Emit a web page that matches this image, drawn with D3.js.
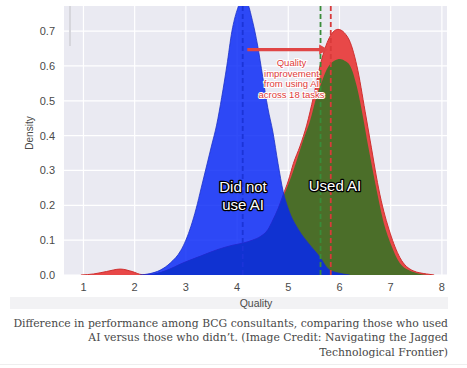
<!DOCTYPE html>
<html><head><meta charset="utf-8">
<script src="https://cdn.jsdelivr.net/npm/d3@7"></script>
<style>html,body{margin:0;padding:0;background:#fff;}svg{display:block;}</style>
</head><body>
<svg id="chart" width="467" height="368"></svg>
<script>
// ---- data ----
const xTicks = [1, 2, 3, 4, 5, 6, 7, 8];
const yTicks = [0.0, 0.1, 0.2, 0.3, 0.4, 0.5, 0.6, 0.7];

// Did not use AI (blue)
const noAiX = [2.1, 2.3, 2.5, 2.7, 2.9, 3.0, 3.1, 3.2, 3.3, 3.4, 3.5, 3.6, 3.7, 3.8, 3.9, 4.0, 4.1, 4.2, 4.3, 4.4, 4.5, 4.6, 4.7, 4.8, 4.9, 5.0, 5.2, 5.4, 5.6, 5.8, 6.0, 6.2];
const noAiY = [0, 0.004, 0.014, 0.035, 0.07, 0.1, 0.14, 0.19, 0.25, 0.31, 0.37, 0.43, 0.51, 0.60, 0.70, 0.76, 0.79, 0.78, 0.73, 0.66, 0.57, 0.48, 0.41, 0.32, 0.24, 0.19, 0.13, 0.09, 0.055, 0.015, 0.005, 0];

// Used AI, all (red)
const aiAllX = [0.95, 1.2, 1.45, 1.72, 1.95, 2.15, 2.3, 2.6, 2.95, 3.3, 3.6, 3.9, 4.13, 4.3, 4.45, 4.6, 4.7, 4.8, 4.9, 5.0, 5.1, 5.23, 5.36, 5.49, 5.62, 5.78, 5.97, 6.17, 6.34, 6.5, 6.6, 6.79, 6.99, 7.18, 7.44, 7.7, 7.85];
const aiAllY = [0, 0.003, 0.01, 0.017, 0.01, 0.001, 0.001, 0.012, 0.035, 0.055, 0.072, 0.085, 0.092, 0.1, 0.11, 0.13, 0.158, 0.19, 0.23, 0.27, 0.32, 0.37, 0.43, 0.51, 0.60, 0.674, 0.705, 0.68, 0.60, 0.47, 0.385, 0.23, 0.12, 0.05, 0.012, 0.003, 0];

// Used AI, subset (green)
const aiSubX = [2.3, 2.6, 2.95, 3.3, 3.6, 3.9, 4.13, 4.3, 4.45, 4.6, 4.7, 4.8, 4.9, 5.0, 5.1, 5.2, 5.3, 5.43, 5.55, 5.62, 5.75, 5.9, 6.01, 6.1, 6.21, 6.34, 6.47, 6.56, 6.65, 6.73, 6.85, 7.0, 7.18, 7.35, 7.5, 7.7];
const aiSubY = [0, 0.012, 0.035, 0.055, 0.072, 0.085, 0.092, 0.1, 0.11, 0.13, 0.158, 0.19, 0.225, 0.26, 0.3, 0.345, 0.39, 0.445, 0.51, 0.54, 0.59, 0.615, 0.62, 0.615, 0.60, 0.54, 0.445, 0.37, 0.3, 0.24, 0.158, 0.09, 0.034, 0.014, 0.006, 0];

const meanLines = [
  {name: "noAi", x: 4.11, color: "#1b34d8"},
  {name: "aiSub", x: 5.63, color: "#3a8c3a"},
  {name: "aiAll", x: 5.83, color: "#d93a3a"}
];
const arrowFrom = 4.2, arrowTo = 5.78, arrowY = 0.647;
const annotationLines = ["Quality", "improvement", "from using AI", "across 18 tasks"];
const captionLines = [
  "Difference in performance among BCG consultants, comparing those who used",
  "AI versus those who didn\u2019t. (Image Credit: Navigating the Jagged",
  "Technological Frontier)"
];

// ---- layout ----
const svg = d3.select("#chart");
const L = 64, R = 447, T = 6, B = 275;
const x = d3.scaleLinear().domain([0.62, 8.1]).range([L, R]);
const y = d3.scaleLinear().domain([0, 0.772]).range([B, T]);

// faint band below axis (screenshot artifact)
svg.append("rect").attr("x", 10).attr("y", 297).attr("width", 438).attr("height", 12).attr("fill", "#f2f2f4");

svg.append("rect").attr("x", L).attr("y", T).attr("width", R - L).attr("height", B - T).attr("fill", "#eaeaf2");

svg.append("defs").append("clipPath").attr("id", "clip")
  .append("rect").attr("x", L).attr("y", T).attr("width", R - L).attr("height", B - T);

// grid
const grid = svg.append("g");
grid.selectAll("line.v").data(xTicks).join("line")
  .attr("x1", d => x(d)).attr("x2", d => x(d)).attr("y1", T).attr("y2", B)
  .attr("stroke", "#fff").attr("stroke-width", 1.2);
grid.selectAll("line.h").data(yTicks).join("line")
  .attr("y1", d => y(d)).attr("y2", d => y(d)).attr("x1", L).attr("x2", R)
  .attr("stroke", "#fff").attr("stroke-width", 1.2);

// faint artifact line
svg.append("line").attr("x1", 70).attr("x2", 70).attr("y1", T).attr("y2", 46)
  .attr("stroke", "#d6d6dc").attr("stroke-width", 2);

const plot = svg.append("g").attr("clip-path", "url(#clip)");
const area = (xs, ys) => d3.area().x((d, i) => x(xs[i])).y0(y(0)).y1((d, i) => y(ys[i])).curve(d3.curveMonotoneX)(ys);
const line = (xs, ys) => d3.line().x((d, i) => x(xs[i])).y((d, i) => y(ys[i])).curve(d3.curveMonotoneX)(ys);

plot.append("path").attr("d", area(aiAllX, aiAllY)).attr("fill", "#e84848");
plot.append("path").attr("d", line(aiAllX, aiAllY)).attr("fill", "none").attr("stroke", "#cf2f2f").attr("stroke-width", 1);
plot.append("path").attr("d", area(aiSubX, aiSubY)).attr("fill", "#4b6e29");
plot.append("path").attr("d", area(noAiX, noAiY)).attr("fill", "#0424f6").attr("fill-opacity", 0.82);
plot.append("path").attr("d", line(noAiX, noAiY)).attr("fill", "none").attr("stroke", "#1a30c8").attr("stroke-width", 0.8);

// mean lines
plot.selectAll("line.mean").data(meanLines).join("line")
  .attr("x1", d => x(d.x)).attr("x2", d => x(d.x)).attr("y1", T).attr("y2", B)
  .attr("stroke", d => d.color).attr("stroke-width", 1.8).attr("stroke-dasharray", "5,3");

// arrow
const ay = y(arrowY);
svg.append("line").attr("x1", x(arrowFrom)).attr("x2", x(arrowTo) - 7).attr("y1", ay).attr("y2", ay)
  .attr("stroke", "#e04545").attr("stroke-width", 3.2);
svg.append("path")
  .attr("d", `M${x(arrowTo)},${ay} L${x(arrowTo) - 9},${ay - 5} L${x(arrowTo) - 9},${ay + 5} Z`)
  .attr("fill", "#e04545");

// annotation
svg.append("g").selectAll("text").data(annotationLines).join("text")
  .attr("x", 291.5).attr("y", (d, i) => 66 + i * 10.6)
  .attr("text-anchor", "middle")
  .attr("font-family", "Liberation Sans, Arial, sans-serif").attr("font-size", 9.5)
  .attr("fill", "#e03a3a").attr("stroke", "#fff").attr("stroke-width", 2).attr("paint-order", "stroke")
  .text(d => d);

// group labels
const labStyle = sel => sel.attr("text-anchor", "middle")
  .attr("font-family", "Liberation Sans, Arial, sans-serif").attr("font-size", 15)
  .attr("fill", "#fff").attr("stroke", "#000").attr("stroke-width", 2.6).attr("paint-order", "stroke")
  .attr("stroke-linejoin", "round");
svg.append("text").attr("x", 243).attr("y", 192).text("Did not").call(labStyle);
svg.append("text").attr("x", 243).attr("y", 209.5).text("use AI").call(labStyle);
svg.append("text").attr("x", 335).attr("y", 190.5).text("Used AI").call(labStyle);

// axes tick labels
const axFont = "Liberation Sans, Arial, sans-serif";
svg.append("g").selectAll("text").data(yTicks).join("text")
  .attr("x", 55).attr("y", d => y(d) + 4).attr("text-anchor", "end")
  .attr("font-family", axFont).attr("font-size", 11).attr("fill", "#4a4a4a")
  .text(d => d.toFixed(1));
svg.append("g").selectAll("text").data(xTicks).join("text")
  .attr("x", d => x(d)).attr("y", 291).attr("text-anchor", "middle")
  .attr("font-family", axFont).attr("font-size", 11).attr("fill", "#4a4a4a")
  .text(d => d);
svg.append("text").attr("transform", "translate(33,133) rotate(-90)").attr("text-anchor", "middle")
  .attr("font-family", axFont).attr("font-size", 10).attr("fill", "#4a4a4a").text("Density");
svg.append("text").attr("x", 256).attr("y", 306.5).attr("text-anchor", "middle")
  .attr("font-family", axFont).attr("font-size", 10.5).attr("fill", "#4a4a4a").text("Quality");

// caption
const cap = svg.append("g").selectAll("text").data(captionLines).join("text")
  .attr("x", 448).attr("y", (d, i) => 327 + i * 14.3).attr("text-anchor", "end")
  .attr("font-family", "DejaVu Serif, serif").attr("font-size", 12).attr("fill", "#484848")
  .text(d => d);
const w0 = cap.node().getComputedTextLength();
cap.attr("font-size", 12 * 435 / w0);

svg.append("line").attr("x1", 0).attr("x2", 467).attr("y1", 364.5).attr("y2", 364.5).attr("stroke", "#eeeeee");
</script>
</body></html>
